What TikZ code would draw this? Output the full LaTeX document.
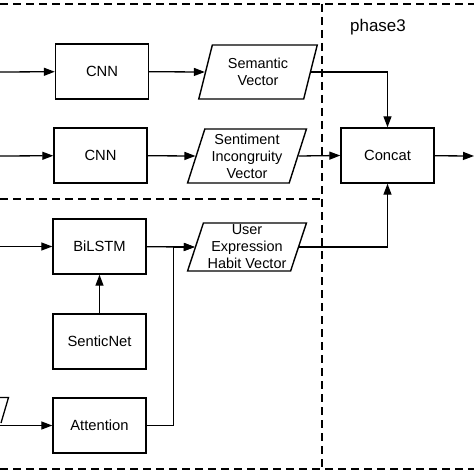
\documentclass[tikz,border=0pt]{standalone}
\usepackage{fontspec}
\setmainfont{Liberation Sans}
\usetikzlibrary{shapes.geometric,arrows.meta}
\begin{document}
\begin{tikzpicture}[x=1bp,y=-1bp,
 box/.style={draw,line width=1.4bp,minimum width=93bp,minimum height=55bp,inner sep=0pt,font=\fontsize{14.8}{16}\selectfont},
 para/.style={draw,line width=1.4bp,trapezium,trapezium left angle=72,trapezium right angle=108,trapezium stretches=true,minimum width=119bp,minimum height=54bp,inner sep=0pt,align=center,font=\fontsize{14.5}{17}\selectfont},
 arr/.style={line width=1.3bp,-{Triangle[length=11bp,width=8bp]}},
 ln/.style={line width=1.3bp},
 dsh/.style={line width=1.5bp,dash pattern=on 8bp off 5bp}]
\useasboundingbox[fill=white] (0,0) rectangle (474,474);

% dashed frames
\draw[dsh] (0,4) -- (474,4);
\draw[dsh] (0,469) -- (474,469);
\draw[dsh] (322,4) -- (322,469);
\draw[dsh] (0,199) -- (322,199);

\node[font=\fontsize{17}{20}\selectfont] (ph3) at (378,27) {phase3};

% nodes
\node[box] (cnn1) at (102,71.5) {CNN};
\node[box] (cnn2) at (100.5,155.5) {CNN};
\node[box] (bilstm) at (99.5,246.5) {BiLSTM};
\node[box] (sentic) at (99.5,341.5) {SenticNet};
\node[box] (att) at (99.5,425.5) {Attention};
\node[box] (concat) at (387.5,155.5) {Concat};

\node[para] (sem) at (258,72) {Semantic\\Vector};
\node[para] (senti) at (247,156) {Sentiment\\Incongruity\\Vector};
\node[para,minimum height=48bp] (user) at (247,247) {User\\Expression\\Habit Vector};

% free ends
\coordinate (in1) at (0,72);
\coordinate (in2) at (0,156);
\coordinate (in3) at (0,246.5);
\coordinate (in4) at (0,425.5);
\coordinate (out) at (474,156);

% partial parallelogram at left
\draw[line width=1.3bp] (0,397.5) -- (8.5,397.5) -- (1,423);

% connectors
\draw[arr] (in1) -- (cnn1);
\draw[arr] (in2) -- (cnn2);
\draw[arr] (in3) -- (bilstm);
\draw[arr] (in4) -- (att);
\draw[arr] (cnn1) -- (sem.west);
\draw[arr] (cnn2) -- (senti.west);
\draw[arr] (sentic) -- (bilstm);
\draw[arr] (bilstm) -- (user.west);
\draw[arr] (att.east) -- ++(27,0) coordinate (j) |- (user.west);
\draw[arr] (sem.east) -| (concat.north);
\draw[arr] (senti.east) -- (concat.west);
\draw[arr] (user.east) -| (concat.south);
\draw[arr] (concat) -- (out);
\end{tikzpicture}
\end{document}
